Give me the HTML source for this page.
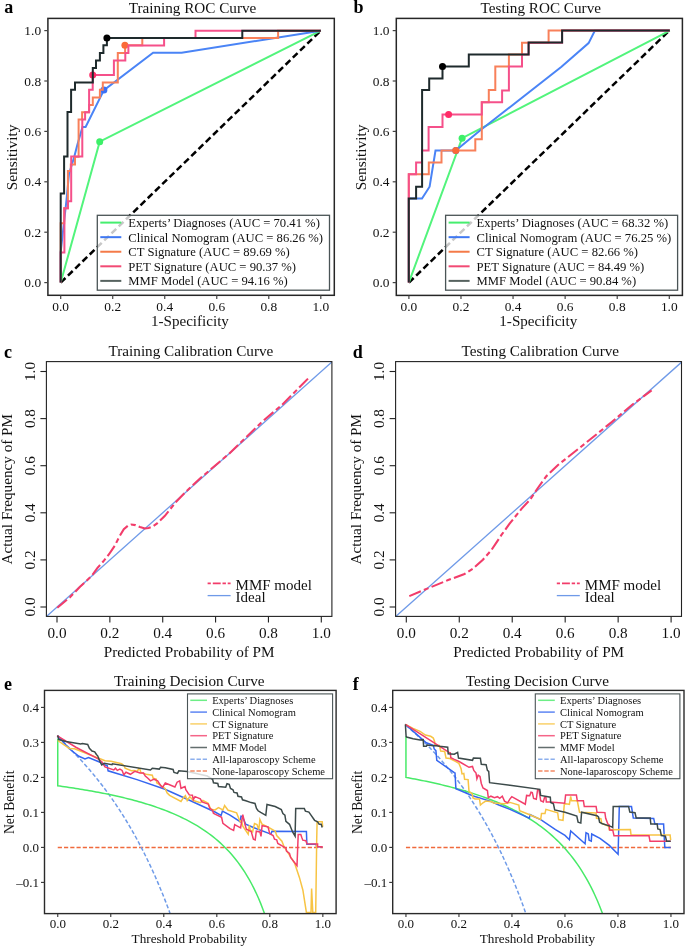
<!DOCTYPE html>
<html><head><meta charset="utf-8"><title>Figure</title>
<style>html,body{margin:0;padding:0;background:#fff;overflow:hidden;} svg{display:block;filter:blur(0.3px);} text{font-family:"Liberation Serif", serif;}</style>
</head><body>
<svg width="685" height="946" viewBox="0 0 685 946" font-family="'Liberation Serif', serif">
<rect width="685" height="946" fill="#fff"/>
<text x="4.30" y="12.60" font-size="18" text-anchor="start" font-weight="bold" fill="#000">a</text>
<text x="192.50" y="12.70" font-size="15.2" text-anchor="middle" font-weight="normal" fill="#111">Training ROC Curve</text>
<line x1="60.70" y1="282.60" x2="320.80" y2="30.60" stroke="#000" stroke-width="2.5" stroke-dasharray="6.6 3.5"/>
<polyline points="60.70,282.60 99.70,141.70 320.80,30.70" fill="none" stroke="#52f47c" stroke-width="2.0" stroke-linejoin="miter" stroke-miterlimit="4"/>
<circle cx="99.70" cy="141.70" r="3.5" fill="#3cf068"/>
<polyline points="60.70,282.60 60.70,252.00 66.50,200.00 69.00,174.00 74.20,157.00 77.30,145.00 82.50,127.00 85.60,127.00 103.90,90.10 153.10,52.70 181.60,52.70 320.80,30.70" fill="none" stroke="#4a84f6" stroke-width="2.0" stroke-linejoin="miter" stroke-miterlimit="4"/>
<circle cx="103.90" cy="90.10" r="3.5" fill="#3a70f5"/>
<polyline points="60.70,282.60 60.70,223.20 64.20,223.20 64.20,208.30 67.90,208.30 67.90,171.00 70.80,171.00 70.80,164.40 75.00,164.40 75.00,156.70 78.60,156.70 78.60,119.50 82.10,119.50 82.10,112.20 89.10,112.20 89.10,105.00 92.80,105.00 92.80,97.40 99.90,97.40 99.90,89.70 102.80,89.70 102.80,82.40 117.80,82.40 117.80,52.90 125.10,52.90 125.10,45.30 142.30,45.30 142.30,37.90 278.10,37.90 278.10,30.70 320.80,30.70" fill="none" stroke="#f8805a" stroke-width="2.0" stroke-linejoin="miter" stroke-miterlimit="4"/>
<circle cx="124.90" cy="45.30" r="3.5" fill="#fa6a38"/>
<polyline points="60.70,282.60 60.70,252.60 64.40,252.60 64.40,208.30 67.90,208.30 67.90,201.20 71.20,201.20 71.20,156.60 82.30,156.60 82.30,119.50 85.10,119.50 85.10,112.20 89.10,112.20 89.10,89.70 92.70,89.70 92.70,74.90 113.90,74.90 113.90,60.50 125.30,60.50 125.30,53.00 128.40,53.00 128.40,45.50 164.10,45.50 164.10,38.00 195.50,38.00 195.50,30.70 320.80,30.70" fill="none" stroke="#f5508a" stroke-width="2.0" stroke-linejoin="miter" stroke-miterlimit="4"/>
<circle cx="92.70" cy="74.90" r="3.5" fill="#ff2c68"/>
<polyline points="60.70,282.60 60.70,193.50 64.10,193.50 64.10,156.50 67.50,156.50 67.50,111.90 71.10,111.90 71.10,89.70 75.00,89.70 75.00,82.40 92.80,82.40 92.80,67.90 96.00,67.90 96.00,60.50 99.90,60.50 99.90,53.00 103.40,53.00 103.40,45.30 106.90,45.30 106.90,38.10 242.30,38.10 242.30,30.70 320.80,30.70" fill="none" stroke="#1e2a2c" stroke-width="2.0" stroke-linejoin="miter" stroke-miterlimit="4"/>
<circle cx="106.90" cy="38.10" r="3.5" fill="#000000"/>
<rect x="47.90" y="18.40" width="286.40" height="276.90" fill="none" stroke="#262626" stroke-width="1.5"/>
<line x1="60.70" y1="295.30" x2="60.70" y2="298.90" stroke="#444" stroke-width="1.2"/>
<text x="60.70" y="310.70" font-size="13.4" text-anchor="middle" font-weight="normal" fill="#111">0.0</text>
<line x1="44.30" y1="282.60" x2="47.90" y2="282.60" stroke="#444" stroke-width="1.2"/>
<text x="41.10" y="287.20" font-size="13.4" text-anchor="end" font-weight="normal" fill="#111">0.0</text>
<line x1="112.72" y1="295.30" x2="112.72" y2="298.90" stroke="#444" stroke-width="1.2"/>
<text x="112.72" y="310.70" font-size="13.4" text-anchor="middle" font-weight="normal" fill="#111">0.2</text>
<line x1="44.30" y1="232.20" x2="47.90" y2="232.20" stroke="#444" stroke-width="1.2"/>
<text x="41.10" y="236.80" font-size="13.4" text-anchor="end" font-weight="normal" fill="#111">0.2</text>
<line x1="164.74" y1="295.30" x2="164.74" y2="298.90" stroke="#444" stroke-width="1.2"/>
<text x="164.74" y="310.70" font-size="13.4" text-anchor="middle" font-weight="normal" fill="#111">0.4</text>
<line x1="44.30" y1="181.80" x2="47.90" y2="181.80" stroke="#444" stroke-width="1.2"/>
<text x="41.10" y="186.40" font-size="13.4" text-anchor="end" font-weight="normal" fill="#111">0.4</text>
<line x1="216.76" y1="295.30" x2="216.76" y2="298.90" stroke="#444" stroke-width="1.2"/>
<text x="216.76" y="310.70" font-size="13.4" text-anchor="middle" font-weight="normal" fill="#111">0.6</text>
<line x1="44.30" y1="131.40" x2="47.90" y2="131.40" stroke="#444" stroke-width="1.2"/>
<text x="41.10" y="136.00" font-size="13.4" text-anchor="end" font-weight="normal" fill="#111">0.6</text>
<line x1="268.78" y1="295.30" x2="268.78" y2="298.90" stroke="#444" stroke-width="1.2"/>
<text x="268.78" y="310.70" font-size="13.4" text-anchor="middle" font-weight="normal" fill="#111">0.8</text>
<line x1="44.30" y1="81.00" x2="47.90" y2="81.00" stroke="#444" stroke-width="1.2"/>
<text x="41.10" y="85.60" font-size="13.4" text-anchor="end" font-weight="normal" fill="#111">0.8</text>
<line x1="320.80" y1="295.30" x2="320.80" y2="298.90" stroke="#444" stroke-width="1.2"/>
<text x="320.80" y="310.70" font-size="13.4" text-anchor="middle" font-weight="normal" fill="#111">1.0</text>
<line x1="44.30" y1="30.60" x2="47.90" y2="30.60" stroke="#444" stroke-width="1.2"/>
<text x="41.10" y="35.20" font-size="13.4" text-anchor="end" font-weight="normal" fill="#111">1.0</text>
<text x="189.95" y="325.70" font-size="15.1" text-anchor="middle" font-weight="normal" fill="#111">1-Specificity</text>
<text x="17.40" y="157.40" font-size="15.4" text-anchor="middle" font-weight="normal" fill="#111" transform="rotate(-90 17.40 157.40)">Sensitivity</text>
<rect x="97.30" y="215.30" width="232.20" height="74.90" fill="white" stroke="#4a5456" stroke-width="1.3" fill-opacity="0.78"/>
<line x1="100.30" y1="222.60" x2="121.30" y2="222.60" stroke="#45ee6e" stroke-width="2.0"/>
<text x="128.30" y="227.00" font-size="12.65" text-anchor="start" font-weight="normal" fill="#111">Experts&#8217; Diagnoses (AUC = 70.41 %)</text>
<line x1="100.30" y1="237.17" x2="121.30" y2="237.17" stroke="#3f78f2" stroke-width="2.0"/>
<text x="128.30" y="241.57" font-size="12.65" text-anchor="start" font-weight="normal" fill="#111">Clinical Nomogram (AUC = 86.26 %)</text>
<line x1="100.30" y1="251.74" x2="121.30" y2="251.74" stroke="#f47a48" stroke-width="2.0"/>
<text x="128.30" y="256.14" font-size="12.65" text-anchor="start" font-weight="normal" fill="#111">CT Signature (AUC = 89.69 %)</text>
<line x1="100.30" y1="266.31" x2="121.30" y2="266.31" stroke="#f24a74" stroke-width="2.0"/>
<text x="128.30" y="270.71" font-size="12.65" text-anchor="start" font-weight="normal" fill="#111">PET Signature (AUC = 90.37 %)</text>
<line x1="100.30" y1="280.88" x2="121.30" y2="280.88" stroke="#56625f" stroke-width="2.0"/>
<text x="128.30" y="285.28" font-size="12.65" text-anchor="start" font-weight="normal" fill="#111">MMF Model (AUC = 94.16 %)</text>
<text x="353.50" y="12.60" font-size="18" text-anchor="start" font-weight="bold" fill="#000">b</text>
<text x="540.75" y="12.70" font-size="15.2" text-anchor="middle" font-weight="normal" fill="#111">Testing ROC Curve</text>
<line x1="408.90" y1="282.60" x2="669.30" y2="30.60" stroke="#000" stroke-width="2.5" stroke-dasharray="6.6 3.5"/>
<polyline points="408.80,282.60 462.10,138.20 669.80,30.60" fill="none" stroke="#52f47c" stroke-width="2.0" stroke-linejoin="miter" stroke-miterlimit="4"/>
<circle cx="462.10" cy="138.20" r="3.5" fill="#3cf068"/>
<polyline points="408.80,282.60 408.80,198.50 422.00,198.50 429.60,186.70 435.50,150.60 455.80,150.60 480.00,130.50 561.50,66.80 588.60,43.10 594.80,30.70 669.80,30.60" fill="none" stroke="#4a84f6" stroke-width="2.0" stroke-linejoin="miter" stroke-miterlimit="4"/>
<circle cx="455.80" cy="150.60" r="3.5" fill="#3a70f5"/>
<polyline points="408.80,282.60 408.80,174.30 428.80,174.30 428.80,162.50 441.50,162.50 441.50,150.60 475.30,150.60 475.30,139.30 481.80,139.30 481.80,102.20 488.80,102.20 488.80,90.10 495.30,90.10 495.30,66.50 508.90,66.50 508.90,54.40 522.00,54.40 522.00,42.70 548.60,42.70 548.60,30.60 669.80,30.60" fill="none" stroke="#f8805a" stroke-width="2.0" stroke-linejoin="miter" stroke-miterlimit="4"/>
<circle cx="455.80" cy="150.60" r="3.5" fill="#fa6a38"/>
<polyline points="408.80,282.60 408.80,174.30 416.10,174.30 416.10,162.50 422.00,162.50 422.00,150.60 428.60,150.60 428.60,127.00 442.50,127.00 442.50,114.60 481.80,114.60 481.80,102.20 502.10,102.20 502.10,90.50 508.90,90.50 508.90,66.50 522.00,66.50 522.00,54.40 528.60,54.40 528.60,42.70 562.10,42.70 562.10,30.60 669.80,30.60" fill="none" stroke="#f5508a" stroke-width="2.0" stroke-linejoin="miter" stroke-miterlimit="4"/>
<circle cx="448.60" cy="114.60" r="3.5" fill="#ff2c68"/>
<polyline points="408.80,282.60 408.80,198.50 416.10,198.50 416.10,186.70 422.10,186.70 422.10,90.10 429.20,90.10 429.20,78.40 442.50,78.40 442.50,66.40 468.80,66.40 468.80,54.40 528.60,54.40 528.60,42.60 562.10,42.60 562.10,30.60 669.80,30.60" fill="none" stroke="#1e2a2c" stroke-width="2.0" stroke-linejoin="miter" stroke-miterlimit="4"/>
<circle cx="442.50" cy="66.60" r="3.5" fill="#000000"/>
<rect x="396.30" y="18.40" width="286.10" height="277.00" fill="none" stroke="#262626" stroke-width="1.5"/>
<line x1="408.90" y1="295.40" x2="408.90" y2="299.00" stroke="#444" stroke-width="1.2"/>
<text x="408.90" y="310.70" font-size="13.4" text-anchor="middle" font-weight="normal" fill="#111">0.0</text>
<line x1="392.70" y1="282.60" x2="396.30" y2="282.60" stroke="#444" stroke-width="1.2"/>
<text x="389.50" y="287.20" font-size="13.4" text-anchor="end" font-weight="normal" fill="#111">0.0</text>
<line x1="460.98" y1="295.40" x2="460.98" y2="299.00" stroke="#444" stroke-width="1.2"/>
<text x="460.98" y="310.70" font-size="13.4" text-anchor="middle" font-weight="normal" fill="#111">0.2</text>
<line x1="392.70" y1="232.20" x2="396.30" y2="232.20" stroke="#444" stroke-width="1.2"/>
<text x="389.50" y="236.80" font-size="13.4" text-anchor="end" font-weight="normal" fill="#111">0.2</text>
<line x1="513.06" y1="295.40" x2="513.06" y2="299.00" stroke="#444" stroke-width="1.2"/>
<text x="513.06" y="310.70" font-size="13.4" text-anchor="middle" font-weight="normal" fill="#111">0.4</text>
<line x1="392.70" y1="181.80" x2="396.30" y2="181.80" stroke="#444" stroke-width="1.2"/>
<text x="389.50" y="186.40" font-size="13.4" text-anchor="end" font-weight="normal" fill="#111">0.4</text>
<line x1="565.14" y1="295.40" x2="565.14" y2="299.00" stroke="#444" stroke-width="1.2"/>
<text x="565.14" y="310.70" font-size="13.4" text-anchor="middle" font-weight="normal" fill="#111">0.6</text>
<line x1="392.70" y1="131.40" x2="396.30" y2="131.40" stroke="#444" stroke-width="1.2"/>
<text x="389.50" y="136.00" font-size="13.4" text-anchor="end" font-weight="normal" fill="#111">0.6</text>
<line x1="617.22" y1="295.40" x2="617.22" y2="299.00" stroke="#444" stroke-width="1.2"/>
<text x="617.22" y="310.70" font-size="13.4" text-anchor="middle" font-weight="normal" fill="#111">0.8</text>
<line x1="392.70" y1="81.00" x2="396.30" y2="81.00" stroke="#444" stroke-width="1.2"/>
<text x="389.50" y="85.60" font-size="13.4" text-anchor="end" font-weight="normal" fill="#111">0.8</text>
<line x1="669.30" y1="295.40" x2="669.30" y2="299.00" stroke="#444" stroke-width="1.2"/>
<text x="669.30" y="310.70" font-size="13.4" text-anchor="middle" font-weight="normal" fill="#111">1.0</text>
<line x1="392.70" y1="30.60" x2="396.30" y2="30.60" stroke="#444" stroke-width="1.2"/>
<text x="389.50" y="35.20" font-size="13.4" text-anchor="end" font-weight="normal" fill="#111">1.0</text>
<text x="538.30" y="325.70" font-size="15.1" text-anchor="middle" font-weight="normal" fill="#111">1-Specificity</text>
<text x="365.80" y="157.40" font-size="15.4" text-anchor="middle" font-weight="normal" fill="#111" transform="rotate(-90 365.80 157.40)">Sensitivity</text>
<rect x="445.60" y="215.30" width="232.00" height="74.90" fill="white" stroke="#4a5456" stroke-width="1.3" fill-opacity="0.78"/>
<line x1="448.60" y1="222.60" x2="469.60" y2="222.60" stroke="#45ee6e" stroke-width="2.0"/>
<text x="476.60" y="227.00" font-size="12.65" text-anchor="start" font-weight="normal" fill="#111">Experts&#8217; Diagnoses (AUC = 68.32 %)</text>
<line x1="448.60" y1="237.17" x2="469.60" y2="237.17" stroke="#3f78f2" stroke-width="2.0"/>
<text x="476.60" y="241.57" font-size="12.65" text-anchor="start" font-weight="normal" fill="#111">Clinical Nomogram (AUC = 76.25 %)</text>
<line x1="448.60" y1="251.74" x2="469.60" y2="251.74" stroke="#f47a48" stroke-width="2.0"/>
<text x="476.60" y="256.14" font-size="12.65" text-anchor="start" font-weight="normal" fill="#111">CT Signature (AUC = 82.66 %)</text>
<line x1="448.60" y1="266.31" x2="469.60" y2="266.31" stroke="#f24a74" stroke-width="2.0"/>
<text x="476.60" y="270.71" font-size="12.65" text-anchor="start" font-weight="normal" fill="#111">PET Signature (AUC = 84.49 %)</text>
<line x1="448.60" y1="280.88" x2="469.60" y2="280.88" stroke="#56625f" stroke-width="2.0"/>
<text x="476.60" y="285.28" font-size="12.65" text-anchor="start" font-weight="normal" fill="#111">MMF Model (AUC = 90.84 %)</text>
<text x="4.00" y="357.50" font-size="18" text-anchor="start" font-weight="bold" fill="#000">c</text>
<text x="190.95" y="356.00" font-size="15.2" text-anchor="middle" font-weight="normal" fill="#111">Training Calibration Curve</text>
<clipPath id="clipc"><rect x="46.4" y="361.6" width="285.5" height="254.79999999999995"/></clipPath>
<line x1="46.43" y1="616.42" x2="331.87" y2="362.08" stroke="#6f9ae8" stroke-width="1.3" clip-path="url(#clipc)"/>
<polyline points="57.30,607.70 70.00,597.20 80.00,586.80 91.70,575.90 97.50,567.90 103.40,561.30 109.20,554.00 115.00,545.30 119.40,536.50 123.80,529.20 128.20,525.50 131.10,524.50 135.50,525.10 139.90,527.00 145.00,528.50 148.60,528.00 153.00,526.30 157.40,523.10 164.70,516.10 170.50,508.80 176.40,501.50 185.00,492.60 200.00,478.50 229.00,453.80 261.70,422.10 282.20,404.70 308.80,377.80" fill="none" stroke="#f23c6a" stroke-width="2.1" stroke-linejoin="miter" stroke-miterlimit="4" stroke-dasharray="12.5 3.3 5 3.3"/>
<rect x="46.40" y="361.60" width="285.50" height="254.80" fill="none" stroke="#222" stroke-width="1.1"/>
<line x1="57.00" y1="616.40" x2="57.00" y2="622.40" stroke="#222" stroke-width="1.1"/>
<text x="57.00" y="638.40" font-size="15.2" text-anchor="middle" font-weight="normal" fill="#111">0.0</text>
<line x1="40.40" y1="607.00" x2="46.40" y2="607.00" stroke="#222" stroke-width="1.1"/>
<text x="35.10" y="607.00" font-size="15.2" text-anchor="middle" font-weight="normal" fill="#111" transform="rotate(-90 35.10 607.00)">0.0</text>
<line x1="109.86" y1="616.40" x2="109.86" y2="622.40" stroke="#222" stroke-width="1.1"/>
<text x="109.86" y="638.40" font-size="15.2" text-anchor="middle" font-weight="normal" fill="#111">0.2</text>
<line x1="40.40" y1="559.90" x2="46.40" y2="559.90" stroke="#222" stroke-width="1.1"/>
<text x="35.10" y="559.90" font-size="15.2" text-anchor="middle" font-weight="normal" fill="#111" transform="rotate(-90 35.10 559.90)">0.2</text>
<line x1="162.72" y1="616.40" x2="162.72" y2="622.40" stroke="#222" stroke-width="1.1"/>
<text x="162.72" y="638.40" font-size="15.2" text-anchor="middle" font-weight="normal" fill="#111">0.4</text>
<line x1="40.40" y1="512.80" x2="46.40" y2="512.80" stroke="#222" stroke-width="1.1"/>
<text x="35.10" y="512.80" font-size="15.2" text-anchor="middle" font-weight="normal" fill="#111" transform="rotate(-90 35.10 512.80)">0.4</text>
<line x1="215.58" y1="616.40" x2="215.58" y2="622.40" stroke="#222" stroke-width="1.1"/>
<text x="215.58" y="638.40" font-size="15.2" text-anchor="middle" font-weight="normal" fill="#111">0.6</text>
<line x1="40.40" y1="465.70" x2="46.40" y2="465.70" stroke="#222" stroke-width="1.1"/>
<text x="35.10" y="465.70" font-size="15.2" text-anchor="middle" font-weight="normal" fill="#111" transform="rotate(-90 35.10 465.70)">0.6</text>
<line x1="268.44" y1="616.40" x2="268.44" y2="622.40" stroke="#222" stroke-width="1.1"/>
<text x="268.44" y="638.40" font-size="15.2" text-anchor="middle" font-weight="normal" fill="#111">0.8</text>
<line x1="40.40" y1="418.60" x2="46.40" y2="418.60" stroke="#222" stroke-width="1.1"/>
<text x="35.10" y="418.60" font-size="15.2" text-anchor="middle" font-weight="normal" fill="#111" transform="rotate(-90 35.10 418.60)">0.8</text>
<line x1="321.30" y1="616.40" x2="321.30" y2="622.40" stroke="#222" stroke-width="1.1"/>
<text x="321.30" y="638.40" font-size="15.2" text-anchor="middle" font-weight="normal" fill="#111">1.0</text>
<line x1="40.40" y1="371.50" x2="46.40" y2="371.50" stroke="#222" stroke-width="1.1"/>
<text x="35.10" y="371.50" font-size="15.2" text-anchor="middle" font-weight="normal" fill="#111" transform="rotate(-90 35.10 371.50)">1.0</text>
<text x="189.15" y="657.30" font-size="15.2" text-anchor="middle" font-weight="normal" fill="#111">Predicted Probability of PM</text>
<text x="12.20" y="489.25" font-size="15.2" text-anchor="middle" font-weight="normal" fill="#111" transform="rotate(-90 12.20 489.25)">Actual Frequency of PM</text>
<line x1="207.60" y1="583.40" x2="230.60" y2="583.40" stroke="#f23c6a" stroke-width="1.6" stroke-dasharray="3.2 2 7.9 1.8 3.4 1.8 3.4"/>
<line x1="207.60" y1="595.60" x2="230.60" y2="595.60" stroke="#6f9ae8" stroke-width="1.3"/>
<text x="235.60" y="589.60" font-size="15.0" text-anchor="start" font-weight="normal" fill="#111">MMF model</text>
<text x="235.60" y="601.80" font-size="15.0" text-anchor="start" font-weight="normal" fill="#111">Ideal</text>
<text x="352.70" y="357.50" font-size="18" text-anchor="start" font-weight="bold" fill="#000">d</text>
<text x="540.35" y="356.00" font-size="15.2" text-anchor="middle" font-weight="normal" fill="#111">Testing Calibration Curve</text>
<clipPath id="clipd"><rect x="395.6" y="361.6" width="285.9" height="254.79999999999995"/></clipPath>
<line x1="395.71" y1="616.42" x2="681.69" y2="362.08" stroke="#6f9ae8" stroke-width="1.3" clip-path="url(#clipd)"/>
<polyline points="409.30,596.10 425.70,589.30 448.10,580.10 464.50,574.00 472.70,568.90 482.90,559.70 491.10,550.50 501.30,535.20 509.40,523.90 521.70,508.60 530.00,499.80 538.20,487.50 546.30,476.30 558.00,465.00 570.90,454.80 591.30,438.50 611.70,422.10 632.20,404.70 651.60,390.40" fill="none" stroke="#f23c6a" stroke-width="2.1" stroke-linejoin="miter" stroke-miterlimit="4" stroke-dasharray="12.5 3.3 5 3.3"/>
<rect x="395.60" y="361.60" width="285.90" height="254.80" fill="none" stroke="#222" stroke-width="1.1"/>
<line x1="406.30" y1="616.40" x2="406.30" y2="622.40" stroke="#222" stroke-width="1.1"/>
<text x="406.30" y="638.40" font-size="15.2" text-anchor="middle" font-weight="normal" fill="#111">0.0</text>
<line x1="389.60" y1="607.00" x2="395.60" y2="607.00" stroke="#222" stroke-width="1.1"/>
<text x="384.30" y="607.00" font-size="15.2" text-anchor="middle" font-weight="normal" fill="#111" transform="rotate(-90 384.30 607.00)">0.0</text>
<line x1="459.26" y1="616.40" x2="459.26" y2="622.40" stroke="#222" stroke-width="1.1"/>
<text x="459.26" y="638.40" font-size="15.2" text-anchor="middle" font-weight="normal" fill="#111">0.2</text>
<line x1="389.60" y1="559.90" x2="395.60" y2="559.90" stroke="#222" stroke-width="1.1"/>
<text x="384.30" y="559.90" font-size="15.2" text-anchor="middle" font-weight="normal" fill="#111" transform="rotate(-90 384.30 559.90)">0.2</text>
<line x1="512.22" y1="616.40" x2="512.22" y2="622.40" stroke="#222" stroke-width="1.1"/>
<text x="512.22" y="638.40" font-size="15.2" text-anchor="middle" font-weight="normal" fill="#111">0.4</text>
<line x1="389.60" y1="512.80" x2="395.60" y2="512.80" stroke="#222" stroke-width="1.1"/>
<text x="384.30" y="512.80" font-size="15.2" text-anchor="middle" font-weight="normal" fill="#111" transform="rotate(-90 384.30 512.80)">0.4</text>
<line x1="565.18" y1="616.40" x2="565.18" y2="622.40" stroke="#222" stroke-width="1.1"/>
<text x="565.18" y="638.40" font-size="15.2" text-anchor="middle" font-weight="normal" fill="#111">0.6</text>
<line x1="389.60" y1="465.70" x2="395.60" y2="465.70" stroke="#222" stroke-width="1.1"/>
<text x="384.30" y="465.70" font-size="15.2" text-anchor="middle" font-weight="normal" fill="#111" transform="rotate(-90 384.30 465.70)">0.6</text>
<line x1="618.14" y1="616.40" x2="618.14" y2="622.40" stroke="#222" stroke-width="1.1"/>
<text x="618.14" y="638.40" font-size="15.2" text-anchor="middle" font-weight="normal" fill="#111">0.8</text>
<line x1="389.60" y1="418.60" x2="395.60" y2="418.60" stroke="#222" stroke-width="1.1"/>
<text x="384.30" y="418.60" font-size="15.2" text-anchor="middle" font-weight="normal" fill="#111" transform="rotate(-90 384.30 418.60)">0.8</text>
<line x1="671.10" y1="616.40" x2="671.10" y2="622.40" stroke="#222" stroke-width="1.1"/>
<text x="671.10" y="638.40" font-size="15.2" text-anchor="middle" font-weight="normal" fill="#111">1.0</text>
<line x1="389.60" y1="371.50" x2="395.60" y2="371.50" stroke="#222" stroke-width="1.1"/>
<text x="384.30" y="371.50" font-size="15.2" text-anchor="middle" font-weight="normal" fill="#111" transform="rotate(-90 384.30 371.50)">1.0</text>
<text x="538.70" y="657.30" font-size="15.2" text-anchor="middle" font-weight="normal" fill="#111">Predicted Probability of PM</text>
<text x="361.40" y="489.25" font-size="15.2" text-anchor="middle" font-weight="normal" fill="#111" transform="rotate(-90 361.40 489.25)">Actual Frequency of PM</text>
<line x1="556.80" y1="583.40" x2="579.80" y2="583.40" stroke="#f23c6a" stroke-width="1.6" stroke-dasharray="3.2 2 7.9 1.8 3.4 1.8 3.4"/>
<line x1="556.80" y1="595.60" x2="579.80" y2="595.60" stroke="#6f9ae8" stroke-width="1.3"/>
<text x="584.80" y="589.60" font-size="15.0" text-anchor="start" font-weight="normal" fill="#111">MMF model</text>
<text x="584.80" y="601.80" font-size="15.0" text-anchor="start" font-weight="normal" fill="#111">Ideal</text>
<text x="3.90" y="690.00" font-size="18" text-anchor="start" font-weight="bold" fill="#000">e</text>
<text x="189.30" y="685.70" font-size="15.2" text-anchor="middle" font-weight="normal" fill="#111">Training Decision Curve</text>
<clipPath id="clipe"><rect x="44.5" y="690.4" width="291.6" height="223.20000000000005"/></clipPath>
<g clip-path="url(#clipe)">
<line x1="57.75" y1="847.40" x2="322.85" y2="847.40" stroke="#f06a3c" stroke-width="1.5" stroke-dasharray="4.2 2.05"/>
<polyline points="57.75,737.15 59.34,738.60 60.93,740.06 62.52,741.54 64.11,743.05 65.70,744.56 67.29,746.10 68.88,747.66 70.47,749.24 72.07,750.84 73.66,752.45 75.25,754.09 76.84,755.75 78.43,757.43 80.02,759.14 81.61,760.86 83.20,762.61 84.79,764.38 86.38,766.18 87.97,768.00 89.56,769.84 91.15,771.71 92.74,773.61 94.33,775.53 95.92,777.48 97.52,779.46 99.11,781.46 100.70,783.50 102.29,785.56 103.88,787.65 105.47,789.78 107.06,791.93 108.65,794.12 110.24,796.34 111.83,798.59 113.42,800.88 115.01,803.20 116.60,805.56 118.19,807.96 119.78,810.39 121.37,812.86 122.96,815.37 124.56,817.92 126.15,820.51 127.74,823.15 129.33,825.82 130.92,828.55 132.51,831.31 134.10,834.13 135.69,836.99 137.28,839.90 138.87,842.86 140.46,845.87 142.05,848.94 143.64,852.06 145.23,855.24 146.82,858.47 148.41,861.76 150.00,865.11 151.60,868.53 153.19,872.01 154.78,875.55 156.37,879.17 157.96,882.85 159.55,886.60 161.14,890.43 162.73,894.34 164.32,898.32 165.91,902.38 167.50,906.53 169.09,910.76 170.68,915.08 172.27,919.50 173.86,924.00 175.45,928.61 177.05,933.31 178.64,938.12" fill="none" stroke="#6f9be8" stroke-width="1.5" stroke-linejoin="miter" stroke-miterlimit="4" stroke-dasharray="4.1 2.2"/>
<polyline points="57.75,738.80 57.75,785.80 60.00,786.11 62.26,786.42 64.51,786.74 66.76,787.07 69.02,787.40 71.27,787.74 73.52,788.08 75.78,788.43 78.03,788.79 80.28,789.15 82.54,789.52 84.79,789.89 87.04,790.28 89.30,790.67 91.55,791.07 93.80,791.47 96.06,791.89 98.31,792.31 100.56,792.74 102.82,793.18 105.07,793.63 107.32,794.09 109.58,794.56 111.83,795.04 114.08,795.53 116.34,796.03 118.59,796.54 120.84,797.06 123.10,797.59 125.35,798.14 127.60,798.70 129.86,799.27 132.11,799.85 134.36,800.45 136.62,801.07 138.87,801.70 141.12,802.34 143.38,803.00 145.63,803.68 147.88,804.37 150.14,805.08 152.39,805.82 154.64,806.57 156.90,807.34 159.15,808.13 161.40,808.95 163.66,809.78 165.91,810.65 168.16,811.53 170.42,812.45 172.67,813.39 174.92,814.36 177.18,815.36 179.43,816.39 181.68,817.45 183.94,818.55 186.19,819.68 188.44,820.85 190.70,822.07 192.95,823.32 195.20,824.62 197.46,825.97 199.71,827.36 201.96,828.81 204.22,830.31 206.47,831.87 208.72,833.49 210.98,835.18 213.23,836.93 215.48,838.76 217.74,840.67 219.99,842.66 222.24,844.74 224.50,846.92 226.75,849.20 229.00,851.59 231.26,854.09 233.51,856.72 235.76,859.49 238.02,862.41 240.27,865.48 242.52,868.73 244.78,872.16 247.03,875.80 249.28,879.66 251.54,883.76 253.79,888.14 256.04,892.81 258.30,897.80 260.55,903.15 262.80,908.91 265.06,915.12 267.31,921.83 269.56,929.10 271.82,937.02" fill="none" stroke="#48ea68" stroke-width="1.5" stroke-linejoin="miter" stroke-miterlimit="4"/>
<polyline points="57.70,735.70 69.30,748.80 78.90,756.30 85.00,758.90 88.50,757.60 98.20,761.50 102.60,763.30 105.00,765.10 107.20,765.60 108.10,770.80 137.00,779.60 165.00,789.20 190.00,800.50 215.00,812.00 221.10,815.50 222.40,811.20 230.00,815.10 240.20,821.70 241.00,816.20 242.50,816.60 245.70,824.20 253.40,827.50 270.90,834.10 272.00,831.20 306.40,831.50 306.90,844.30 316.10,844.30 316.60,846.80 322.20,846.80" fill="none" stroke="#3566f0" stroke-width="1.5" stroke-linejoin="miter" stroke-miterlimit="4"/>
<polyline points="57.70,740.50 69.30,748.40 74.50,748.80 98.20,758.00 102.60,759.80 105.00,760.80 111.10,761.20 121.60,763.80 124.30,766.00 125.10,768.20 131.30,770.80 133.90,770.40 137.40,771.30 138.70,768.60 140.00,769.50 140.90,772.60 146.20,774.30 152.30,775.20 153.20,778.30 156.20,779.20 156.70,782.70 161.10,785.70 165.30,788.70 167.00,792.70 169.60,795.30 181.00,801.40 183.20,797.90 185.40,795.70 187.20,800.50 189.80,796.60 193.30,800.50 200.30,802.70 202.90,800.50 208.20,803.20 210.80,809.30 215.00,809.90 218.50,807.70 222.90,809.90 224.60,805.50 228.10,810.30 230.00,810.70 236.60,812.90 240.20,821.70 241.50,820.50 242.80,826.10 248.20,834.10 249.30,825.30 250.10,829.70 252.60,831.90 254.50,823.50 257.00,824.60 258.80,829.70 259.90,819.50 262.10,824.20 268.70,827.50 275.30,831.20 276.70,835.50 281.90,841.20 284.20,847.00 294.70,863.40 299.40,877.40 302.90,890.20 306.40,912.40 311.00,912.40 311.60,888.50 312.80,912.40 315.70,912.40 316.70,840.00 317.10,821.80 322.20,821.80 322.70,826.90" fill="none" stroke="#f7c444" stroke-width="1.5" stroke-linejoin="miter" stroke-miterlimit="4"/>
<polyline points="57.00,735.70 76.30,747.50 98.20,758.90 102.00,762.00 105.00,766.90 113.80,770.00 115.50,768.20 117.30,770.40 119.90,769.10 122.10,770.40 123.80,774.80 126.00,772.20 130.40,774.30 134.80,771.30 140.00,773.00 143.50,773.00 145.30,776.10 147.90,778.30 150.50,780.90 154.00,779.20 157.60,780.90 161.10,786.20 162.60,787.40 165.30,783.00 174.90,787.00 177.10,782.20 179.70,780.80 181.00,788.30 185.00,786.50 185.80,789.60 189.30,794.90 192.40,795.30 193.30,799.70 195.00,796.60 200.30,798.80 202.00,801.90 208.20,804.00 209.90,808.40 212.60,810.20 213.40,813.20 215.00,814.20 221.60,817.30 222.90,823.40 230.00,828.60 233.60,830.40 234.70,824.60 240.60,827.90 242.80,814.70 245.00,824.60 246.40,829.30 251.20,831.50 253.40,839.20 255.20,839.90 256.30,831.20 259.90,831.90 261.00,836.30 262.10,825.70 268.00,826.80 269.80,833.70 273.10,835.50 274.50,839.20 276.70,839.90 277.80,843.50 283.00,846.40 286.00,848.20 286.50,851.10 289.50,853.40 290.60,857.50 297.00,865.70 298.20,834.60 300.80,834.60 301.80,837.60 302.80,840.20 305.90,840.70 306.90,843.80 317.60,844.10 317.60,846.80 322.70,846.80" fill="none" stroke="#f23e6a" stroke-width="1.5" stroke-linejoin="miter" stroke-miterlimit="4"/>
<polyline points="57.70,735.50 58.80,739.60 65.80,741.40 80.70,744.00 82.40,743.60 87.70,744.50 89.40,748.40 92.00,751.00 94.70,751.90 96.40,754.50 97.70,755.80 99.90,761.50 101.70,765.00 104.30,763.30 112.00,764.70 112.40,763.80 150.50,770.00 152.30,768.20 159.30,769.10 160.60,767.30 165.30,767.70 173.10,769.50 174.00,772.50 177.50,773.40 178.80,770.80 187.20,771.60 207.30,776.00 212.60,779.30 213.50,782.80 217.80,783.50 218.50,786.50 225.70,787.20 227.00,783.70 229.20,784.30 230.50,788.50 233.00,789.80 234.00,792.40 237.10,793.00 238.00,796.30 241.50,797.00 242.50,799.80 245.80,800.80 251.10,802.60 255.00,803.50 256.50,808.50 258.10,810.80 260.70,812.40 265.80,815.30 267.00,804.40 275.20,806.50 281.30,809.50 282.90,813.60 284.90,815.10 285.90,821.30 289.50,824.30 292.60,832.00 295.10,836.10 295.70,808.50 304.30,808.50 305.40,811.10 308.90,812.10 311.00,815.10 314.60,820.30 317.60,821.80 319.20,824.30 321.20,824.30 322.20,827.40" fill="none" stroke="#3c4a4a" stroke-width="1.5" stroke-linejoin="miter" stroke-miterlimit="4"/>
</g>
<rect x="44.50" y="690.40" width="291.60" height="223.20" fill="none" stroke="#2a2a2a" stroke-width="1.4"/>
<line x1="57.75" y1="913.60" x2="57.75" y2="917.10" stroke="#333" stroke-width="1.1"/>
<text x="57.75" y="927.50" font-size="13.0" text-anchor="middle" font-weight="normal" fill="#111">0.0</text>
<line x1="110.77" y1="913.60" x2="110.77" y2="917.10" stroke="#333" stroke-width="1.1"/>
<text x="110.77" y="927.50" font-size="13.0" text-anchor="middle" font-weight="normal" fill="#111">0.2</text>
<line x1="163.79" y1="913.60" x2="163.79" y2="917.10" stroke="#333" stroke-width="1.1"/>
<text x="163.79" y="927.50" font-size="13.0" text-anchor="middle" font-weight="normal" fill="#111">0.4</text>
<line x1="216.81" y1="913.60" x2="216.81" y2="917.10" stroke="#333" stroke-width="1.1"/>
<text x="216.81" y="927.50" font-size="13.0" text-anchor="middle" font-weight="normal" fill="#111">0.6</text>
<line x1="269.83" y1="913.60" x2="269.83" y2="917.10" stroke="#333" stroke-width="1.1"/>
<text x="269.83" y="927.50" font-size="13.0" text-anchor="middle" font-weight="normal" fill="#111">0.8</text>
<line x1="322.85" y1="913.60" x2="322.85" y2="917.10" stroke="#333" stroke-width="1.1"/>
<text x="322.85" y="927.50" font-size="13.0" text-anchor="middle" font-weight="normal" fill="#111">1.0</text>
<line x1="41.00" y1="882.40" x2="44.50" y2="882.40" stroke="#333" stroke-width="1.1"/>
<text x="39.00" y="886.90" font-size="13.0" text-anchor="end" font-weight="normal" fill="#111">&#8211;0.1</text>
<line x1="41.00" y1="847.40" x2="44.50" y2="847.40" stroke="#333" stroke-width="1.1"/>
<text x="39.00" y="851.90" font-size="13.0" text-anchor="end" font-weight="normal" fill="#111">0.0</text>
<line x1="41.00" y1="812.40" x2="44.50" y2="812.40" stroke="#333" stroke-width="1.1"/>
<text x="39.00" y="816.90" font-size="13.0" text-anchor="end" font-weight="normal" fill="#111">0.1</text>
<line x1="41.00" y1="777.40" x2="44.50" y2="777.40" stroke="#333" stroke-width="1.1"/>
<text x="39.00" y="781.90" font-size="13.0" text-anchor="end" font-weight="normal" fill="#111">0.2</text>
<line x1="41.00" y1="742.40" x2="44.50" y2="742.40" stroke="#333" stroke-width="1.1"/>
<text x="39.00" y="746.90" font-size="13.0" text-anchor="end" font-weight="normal" fill="#111">0.3</text>
<line x1="41.00" y1="707.40" x2="44.50" y2="707.40" stroke="#333" stroke-width="1.1"/>
<text x="39.00" y="711.90" font-size="13.0" text-anchor="end" font-weight="normal" fill="#111">0.4</text>
<text x="189.30" y="942.70" font-size="13.2" text-anchor="middle" font-weight="normal" fill="#111">Threshold Probability</text>
<text x="14.10" y="802.30" font-size="13.7" text-anchor="middle" font-weight="normal" fill="#111" transform="rotate(-90 14.10 802.30)">Net Benefit</text>
<rect x="187.50" y="693.90" width="145.10" height="84.80" fill="white" stroke="#4a5456" stroke-width="1.1" fill-opacity="0.8"/>
<line x1="190.30" y1="700.30" x2="207.00" y2="700.30" stroke="#48ea68" stroke-width="1.5" stroke-opacity="0.8"/>
<text x="212.20" y="703.90" font-size="10.5" text-anchor="start" font-weight="normal" fill="#111">Experts&#8217; Diagnoses</text>
<line x1="190.30" y1="712.10" x2="207.00" y2="712.10" stroke="#3566f0" stroke-width="1.5" stroke-opacity="0.8"/>
<text x="212.20" y="715.70" font-size="10.5" text-anchor="start" font-weight="normal" fill="#111">Clinical Nomogram</text>
<line x1="190.30" y1="723.90" x2="207.00" y2="723.90" stroke="#f7c444" stroke-width="1.5" stroke-opacity="0.8"/>
<text x="212.20" y="727.50" font-size="10.5" text-anchor="start" font-weight="normal" fill="#111">CT Signature</text>
<line x1="190.30" y1="735.70" x2="207.00" y2="735.70" stroke="#f23e6a" stroke-width="1.5" stroke-opacity="0.8"/>
<text x="212.20" y="739.30" font-size="10.5" text-anchor="start" font-weight="normal" fill="#111">PET Signature</text>
<line x1="190.30" y1="747.50" x2="207.00" y2="747.50" stroke="#3c4a4a" stroke-width="1.5" stroke-opacity="0.8"/>
<text x="212.20" y="751.10" font-size="10.5" text-anchor="start" font-weight="normal" fill="#111">MMF Model</text>
<line x1="190.30" y1="759.30" x2="207.00" y2="759.30" stroke="#6f9be8" stroke-width="1.5" stroke-dasharray="4.4 1.8" stroke-opacity="0.8"/>
<text x="212.20" y="762.90" font-size="10.5" text-anchor="start" font-weight="normal" fill="#111">All-laparoscopy Scheme</text>
<line x1="190.30" y1="771.10" x2="207.00" y2="771.10" stroke="#f06a3c" stroke-width="1.5" stroke-dasharray="4.4 1.8" stroke-opacity="0.8"/>
<text x="212.20" y="774.70" font-size="10.5" text-anchor="start" font-weight="normal" fill="#111">None-laparoscopy Scheme</text>
<text x="352.80" y="690.00" font-size="18" text-anchor="start" font-weight="bold" fill="#000">f</text>
<text x="537.35" y="685.70" font-size="15.2" text-anchor="middle" font-weight="normal" fill="#111">Testing Decision Curve</text>
<clipPath id="clipf"><rect x="392.7" y="690.4" width="291.3" height="223.20000000000005"/></clipPath>
<g clip-path="url(#clipf)">
<line x1="405.95" y1="847.40" x2="670.95" y2="847.40" stroke="#f06a3c" stroke-width="1.5" stroke-dasharray="4.2 2.05"/>
<polyline points="405.95,725.25 407.54,726.63 409.13,728.02 410.72,729.43 412.31,730.85 413.90,732.30 415.49,733.76 417.08,735.24 418.67,736.74 420.26,738.26 421.85,739.79 423.44,741.35 425.03,742.93 426.62,744.53 428.21,746.14 429.80,747.78 431.39,749.45 432.98,751.13 434.57,752.84 436.16,754.57 437.75,756.32 439.34,758.10 440.93,759.90 442.52,761.73 444.11,763.58 445.70,765.46 447.29,767.36 448.88,769.30 450.47,771.26 452.06,773.25 453.65,775.27 455.24,777.31 456.83,779.39 458.42,781.50 460.01,783.64 461.60,785.82 463.19,788.02 464.78,790.27 466.37,792.54 467.96,794.85 469.55,797.20 471.14,799.59 472.73,802.01 474.32,804.48 475.91,806.98 477.50,809.52 479.09,812.11 480.68,814.74 482.27,817.41 483.86,820.13 485.45,822.90 487.04,825.71 488.63,828.58 490.22,831.49 491.81,834.46 493.40,837.47 494.99,840.55 496.58,843.68 498.17,846.86 499.76,850.11 501.35,853.42 502.94,856.78 504.53,860.22 506.12,863.72 507.71,867.29 509.30,870.92 510.89,874.64 512.48,878.42 514.07,882.28 515.66,886.22 517.25,890.24 518.84,894.35 520.43,898.54 522.02,902.83 523.61,907.20 525.20,911.67 526.79,916.24 528.38,920.91 529.97,925.69 531.56,930.57 533.15,935.57" fill="none" stroke="#6f9be8" stroke-width="1.5" stroke-linejoin="miter" stroke-miterlimit="4" stroke-dasharray="4.1 2.2"/>
<polyline points="405.95,736.20 405.95,777.40 408.20,777.81 410.45,778.22 412.71,778.64 414.96,779.07 417.21,779.50 419.46,779.95 421.72,780.40 423.97,780.86 426.22,781.33 428.47,781.80 430.73,782.29 432.98,782.78 435.23,783.29 437.49,783.80 439.74,784.33 441.99,784.86 444.24,785.40 446.50,785.96 448.75,786.53 451.00,787.11 453.25,787.70 455.50,788.30 457.76,788.92 460.01,789.55 462.26,790.19 464.51,790.84 466.77,791.52 469.02,792.20 471.27,792.90 473.52,793.62 475.78,794.35 478.03,795.11 480.28,795.88 482.53,796.66 484.79,797.47 487.04,798.30 489.29,799.14 491.54,800.01 493.80,800.90 496.05,801.81 498.30,802.75 500.55,803.71 502.81,804.70 505.06,805.71 507.31,806.75 509.56,807.83 511.82,808.93 514.07,810.06 516.32,811.23 518.58,812.43 520.83,813.66 523.08,814.94 525.33,816.25 527.59,817.61 529.84,819.01 532.09,820.45 534.34,821.94 536.60,823.48 538.85,825.08 541.10,826.72 543.35,828.43 545.61,830.20 547.86,832.03 550.11,833.94 552.36,835.91 554.62,837.96 556.87,840.09 559.12,842.31 561.37,844.62 563.62,847.02 565.88,849.53 568.13,852.15 570.38,854.88 572.63,857.75 574.89,860.74 577.14,863.88 579.39,867.17 581.64,870.63 583.90,874.27 586.15,878.10 588.40,882.14 590.65,886.41 592.91,890.93 595.16,895.71 597.41,900.78 599.66,906.18 601.92,911.93 604.17,918.07 606.42,924.63 608.67,931.67 610.93,939.24" fill="none" stroke="#48ea68" stroke-width="1.5" stroke-linejoin="miter" stroke-miterlimit="4"/>
<polyline points="405.40,724.40 426.30,742.80 433.30,745.40 434.20,748.90 435.90,750.70 436.80,760.30 454.30,772.60 455.00,773.00 455.90,788.80 472.50,795.80 490.00,801.10 498.80,805.00 510.00,809.40 529.30,818.20 530.10,814.70 541.10,819.90 555.50,829.60 565.00,835.40 569.40,839.70 570.70,831.00 585.10,843.70 586.00,832.70 588.30,834.00 589.10,840.20 591.30,841.10 591.70,834.00 600.00,838.40 609.30,845.40 618.10,854.20 619.30,806.60 631.50,806.60 633.30,818.00 653.70,818.50 654.90,824.10 663.60,824.10 664.80,847.50 670.70,847.50" fill="none" stroke="#3566f0" stroke-width="1.5" stroke-linejoin="miter" stroke-miterlimit="4"/>
<polyline points="405.40,724.40 413.10,728.40 420.10,731.40 425.40,735.00 430.70,736.30 433.30,738.00 434.60,741.50 435.00,745.40 439.40,745.40 440.70,751.00 444.70,751.50 446.00,758.10 449.90,758.50 453.40,760.30 455.00,761.20 458.90,763.40 461.10,768.60 462.00,773.90 463.80,773.50 464.60,779.20 468.10,779.60 469.00,791.40 472.10,793.60 473.00,798.00 475.10,798.90 479.50,798.90 480.40,805.00 483.00,802.80 485.70,801.10 491.80,801.70 493.50,803.00 504.00,803.70 510.00,802.40 518.80,805.00 519.60,810.70 529.70,814.70 540.70,819.50 541.50,813.40 545.00,813.40 545.90,809.40 557.70,812.90 558.60,819.50 563.00,820.40 564.30,804.20 565.90,803.80 569.40,804.30 570.70,796.40 571.60,800.80 577.30,800.80 579.50,812.20 596.10,813.00 596.50,818.30 600.90,818.70 601.80,823.50 608.80,826.20 609.20,829.80 630.40,829.60 631.00,834.90 670.10,834.90 670.70,840.10" fill="none" stroke="#f7c444" stroke-width="1.5" stroke-linejoin="miter" stroke-miterlimit="4"/>
<polyline points="405.40,724.40 449.00,752.40 450.30,752.80 450.80,757.70 454.30,759.40 458.50,761.20 461.60,763.00 469.00,767.30 472.50,766.50 473.80,770.40 476.00,773.00 476.90,778.70 478.20,775.20 480.00,776.50 481.30,783.50 483.00,787.90 487.40,790.50 488.30,797.60 490.90,796.20 494.40,797.60 497.50,796.70 499.70,798.40 502.30,796.20 504.50,801.10 507.60,802.80 510.00,798.90 511.80,796.70 525.30,804.20 526.60,795.40 529.70,795.80 531.00,792.30 532.30,792.70 533.60,798.50 536.30,799.30 537.60,789.70 538.90,789.70 540.70,800.70 543.30,802.00 544.60,797.20 545.90,797.20 546.30,802.00 549.90,802.00 564.70,803.30 565.60,795.00 576.40,795.10 577.30,800.80 583.40,800.80 584.30,806.50 596.10,806.50 597.00,812.20 604.90,812.60 605.70,818.30 607.90,824.00 609.20,824.90 609.70,830.10 612.80,830.20 614.00,835.80 649.00,835.80 650.00,841.30 670.70,841.30" fill="none" stroke="#f23e6a" stroke-width="1.5" stroke-linejoin="miter" stroke-miterlimit="4"/>
<polyline points="405.40,724.40 406.10,736.20 406.60,737.10 413.10,738.80 420.10,740.10 423.20,739.70 423.60,746.30 426.30,746.30 427.20,745.00 433.30,745.80 435.00,745.40 439.40,746.30 447.70,747.20 448.20,753.70 454.30,754.20 457.60,752.40 458.50,758.10 472.50,760.30 473.40,758.10 480.40,758.30 481.30,764.30 486.10,764.70 487.40,770.40 488.70,771.30 489.60,782.70 510.00,785.30 539.80,789.30 540.70,795.40 550.30,797.20 550.70,802.40 553.40,803.70 554.70,809.90 565.00,812.20 576.80,816.10 578.10,822.20 580.80,823.10 581.60,812.20 597.00,815.70 598.50,817.00 599.60,822.20 601.80,823.50 611.40,826.60 612.70,827.50 613.20,806.60 628.60,806.60 629.80,812.10 635.00,812.70 636.20,818.00 650.20,818.00 650.80,824.10 657.20,824.10 657.80,829.00 660.10,829.60 661.30,835.50 665.40,836.10 666.60,841.30 670.70,841.30" fill="none" stroke="#3c4a4a" stroke-width="1.5" stroke-linejoin="miter" stroke-miterlimit="4"/>
</g>
<rect x="392.70" y="690.40" width="291.30" height="223.20" fill="none" stroke="#2a2a2a" stroke-width="1.4"/>
<line x1="405.95" y1="913.60" x2="405.95" y2="917.10" stroke="#333" stroke-width="1.1"/>
<text x="405.95" y="927.50" font-size="13.0" text-anchor="middle" font-weight="normal" fill="#111">0.0</text>
<line x1="458.95" y1="913.60" x2="458.95" y2="917.10" stroke="#333" stroke-width="1.1"/>
<text x="458.95" y="927.50" font-size="13.0" text-anchor="middle" font-weight="normal" fill="#111">0.2</text>
<line x1="511.95" y1="913.60" x2="511.95" y2="917.10" stroke="#333" stroke-width="1.1"/>
<text x="511.95" y="927.50" font-size="13.0" text-anchor="middle" font-weight="normal" fill="#111">0.4</text>
<line x1="564.95" y1="913.60" x2="564.95" y2="917.10" stroke="#333" stroke-width="1.1"/>
<text x="564.95" y="927.50" font-size="13.0" text-anchor="middle" font-weight="normal" fill="#111">0.6</text>
<line x1="617.95" y1="913.60" x2="617.95" y2="917.10" stroke="#333" stroke-width="1.1"/>
<text x="617.95" y="927.50" font-size="13.0" text-anchor="middle" font-weight="normal" fill="#111">0.8</text>
<line x1="670.95" y1="913.60" x2="670.95" y2="917.10" stroke="#333" stroke-width="1.1"/>
<text x="670.95" y="927.50" font-size="13.0" text-anchor="middle" font-weight="normal" fill="#111">1.0</text>
<line x1="389.20" y1="882.40" x2="392.70" y2="882.40" stroke="#333" stroke-width="1.1"/>
<text x="387.20" y="886.90" font-size="13.0" text-anchor="end" font-weight="normal" fill="#111">&#8211;0.1</text>
<line x1="389.20" y1="847.40" x2="392.70" y2="847.40" stroke="#333" stroke-width="1.1"/>
<text x="387.20" y="851.90" font-size="13.0" text-anchor="end" font-weight="normal" fill="#111">0.0</text>
<line x1="389.20" y1="812.40" x2="392.70" y2="812.40" stroke="#333" stroke-width="1.1"/>
<text x="387.20" y="816.90" font-size="13.0" text-anchor="end" font-weight="normal" fill="#111">0.1</text>
<line x1="389.20" y1="777.40" x2="392.70" y2="777.40" stroke="#333" stroke-width="1.1"/>
<text x="387.20" y="781.90" font-size="13.0" text-anchor="end" font-weight="normal" fill="#111">0.2</text>
<line x1="389.20" y1="742.40" x2="392.70" y2="742.40" stroke="#333" stroke-width="1.1"/>
<text x="387.20" y="746.90" font-size="13.0" text-anchor="end" font-weight="normal" fill="#111">0.3</text>
<line x1="389.20" y1="707.40" x2="392.70" y2="707.40" stroke="#333" stroke-width="1.1"/>
<text x="387.20" y="711.90" font-size="13.0" text-anchor="end" font-weight="normal" fill="#111">0.4</text>
<text x="537.45" y="942.70" font-size="13.2" text-anchor="middle" font-weight="normal" fill="#111">Threshold Probability</text>
<text x="362.30" y="802.30" font-size="13.7" text-anchor="middle" font-weight="normal" fill="#111" transform="rotate(-90 362.30 802.30)">Net Benefit</text>
<rect x="535.30" y="693.90" width="144.60" height="84.80" fill="white" stroke="#4a5456" stroke-width="1.1" fill-opacity="0.8"/>
<line x1="538.10" y1="700.30" x2="554.80" y2="700.30" stroke="#48ea68" stroke-width="1.5" stroke-opacity="0.8"/>
<text x="560.00" y="703.90" font-size="10.5" text-anchor="start" font-weight="normal" fill="#111">Experts&#8217; Diagnoses</text>
<line x1="538.10" y1="712.10" x2="554.80" y2="712.10" stroke="#3566f0" stroke-width="1.5" stroke-opacity="0.8"/>
<text x="560.00" y="715.70" font-size="10.5" text-anchor="start" font-weight="normal" fill="#111">Clinical Nomogram</text>
<line x1="538.10" y1="723.90" x2="554.80" y2="723.90" stroke="#f7c444" stroke-width="1.5" stroke-opacity="0.8"/>
<text x="560.00" y="727.50" font-size="10.5" text-anchor="start" font-weight="normal" fill="#111">CT Signature</text>
<line x1="538.10" y1="735.70" x2="554.80" y2="735.70" stroke="#f23e6a" stroke-width="1.5" stroke-opacity="0.8"/>
<text x="560.00" y="739.30" font-size="10.5" text-anchor="start" font-weight="normal" fill="#111">PET Signature</text>
<line x1="538.10" y1="747.50" x2="554.80" y2="747.50" stroke="#3c4a4a" stroke-width="1.5" stroke-opacity="0.8"/>
<text x="560.00" y="751.10" font-size="10.5" text-anchor="start" font-weight="normal" fill="#111">MMF Model</text>
<line x1="538.10" y1="759.30" x2="554.80" y2="759.30" stroke="#6f9be8" stroke-width="1.5" stroke-dasharray="4.4 1.8" stroke-opacity="0.8"/>
<text x="560.00" y="762.90" font-size="10.5" text-anchor="start" font-weight="normal" fill="#111">All-laparoscopy Scheme</text>
<line x1="538.10" y1="771.10" x2="554.80" y2="771.10" stroke="#f06a3c" stroke-width="1.5" stroke-dasharray="4.4 1.8" stroke-opacity="0.8"/>
<text x="560.00" y="774.70" font-size="10.5" text-anchor="start" font-weight="normal" fill="#111">None-laparoscopy Scheme</text>
</svg>
</body></html>
